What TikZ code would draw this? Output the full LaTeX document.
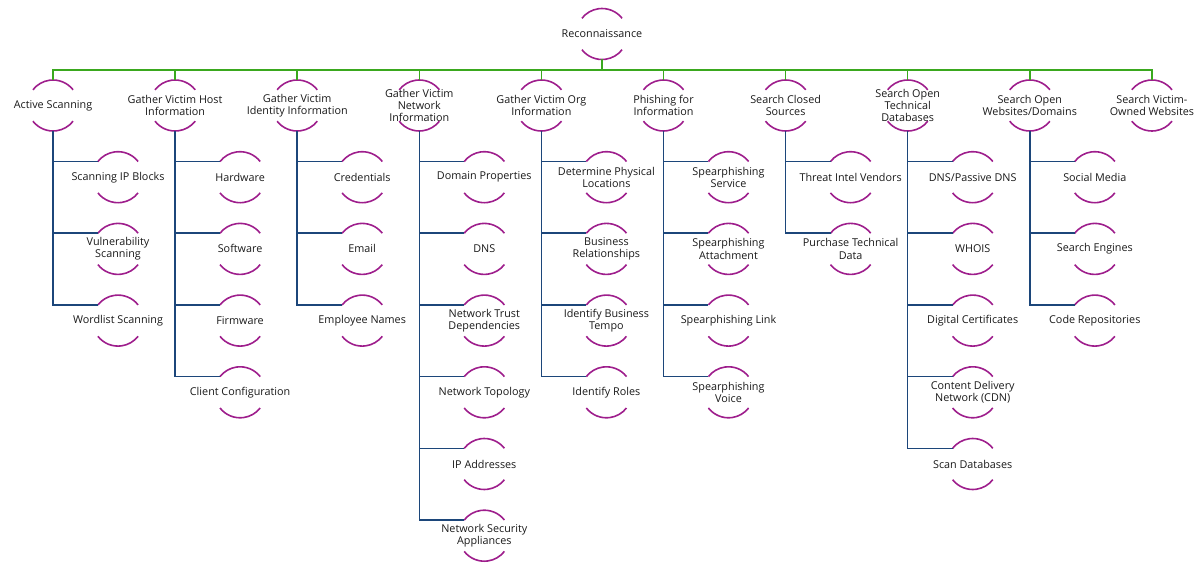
\documentclass[tikz,border=0pt]{standalone}
\usepackage{fontspec}
\setmainfont{Open Sans}
\definecolor{arcpurple}{RGB}{158,30,140}
\definecolor{busgreen}{RGB}{58,168,30}
\definecolor{branchblue}{RGB}{28,70,122}
\newcommand{\ringarcs}[1]{%upper and lower arc of one ring
  \draw[arcline] (#1.38) arc[start angle=38,end angle=142,radius=25.5];
  \draw[arcline] (#1.218) arc[start angle=218,end angle=322,radius=25.5];}

\begin{document}
\begin{tikzpicture}[x=1pt,y=1pt,
        ring/.style={circle,minimum size=51pt,inner sep=0pt,outer sep=0pt,
                label={[font=\fontsize{10.8}{12.4}\selectfont,text=black!90,align=center]center:#1}},%text sits in the ring
        arcline/.style={arcpurple,line width=1.6pt},
        busline/.style={busgreen,line width=1.5pt},
        branchline/.style={branchblue,line width=1.5pt}
                ]
\useasboundingbox (0,0) rectangle (1200,-578);
\node[ring=Reconnaissance] (recon) at (602,-34) {};
\ringarcs{recon}
\coordinate (bus) at (602,-70);
\draw[busline] (recon.south) -- (bus);
\foreach \cat/\txt [count=\i from 0] in {scan/Active Scanning,host/{Gather Victim Host\\Information},
        ident/{Gather Victim\\Identity Information},net/{Gather Victim\\Network\\Information},
        org/{Gather Victim Org\\Information},phish/{Phishing for\\Information},closed/{Search Closed\\Sources},
        tech/{Search Open\\Technical\\Databases},web/{Search Open\\Websites/Domains},owned/{Search Victim-\\Owned Websites}}{
  \node[ring=\txt] (\cat) at (53+122.1*\i,-105.5) {};
  \ringarcs{\cat}
  \draw[busline] (\cat.north) -- (\cat.north |- bus) -- (bus);
}
\foreach \cat/\kids in {scan/{Scanning IP Blocks,{Vulnerability\\Scanning},Wordlist Scanning},
        host/{Hardware,Software,Firmware,Client Configuration},
        ident/{Credentials,Email,Employee Names},
        net/{Domain Properties,DNS,{Network Trust\\Dependencies},Network Topology,IP Addresses,{Network Security\\Appliances}},
        org/{{Determine Physical\\Locations},{Business\\Relationships},{Identify Business\\Tempo},Identify Roles},
        phish/{{Spearphishing\\Service},{Spearphishing\\Attachment},Spearphishing Link,{Spearphishing\\Voice}},
        closed/{Threat Intel Vendors,{Purchase Technical\\Data}},
        tech/{DNS/Passive DNS,WHOIS,Digital Certificates,{Content Delivery\\Network (CDN)},Scan Databases},
        web/{Social Media,Search Engines,Code Repositories}}{
  \foreach \kid [count=\k] in \kids {
    \node[ring=\kid] (\cat\k) at ([shift={(65,-71.7*\k)}]\cat.center) {};
    \ringarcs{\cat\k}
    \draw[branchline] (\cat.south) |- (\cat\k.142);
  }
}
\end{tikzpicture}
\end{document}
